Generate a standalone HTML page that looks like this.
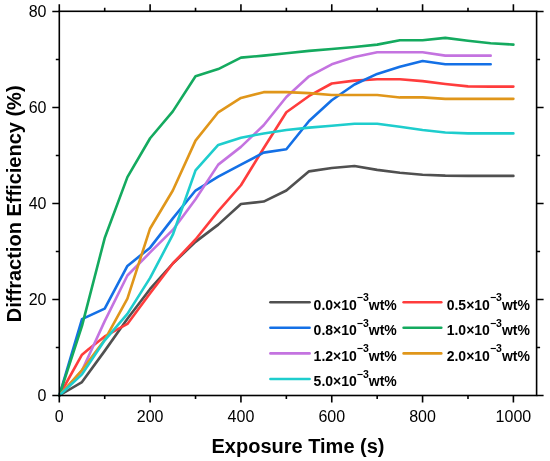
<!DOCTYPE html>
<html><head><meta charset="utf-8"><style>
html,body{margin:0;padding:0;background:#fff;}
body{width:550px;height:461px;overflow:hidden;}
svg{display:block;}
.tl{font-family:"Liberation Sans",Arial,sans-serif;font-size:16px;fill:#000;}
.ti{font-family:"Liberation Sans",Arial,sans-serif;font-size:20px;font-weight:bold;fill:#000;}
.lg{font-family:"Liberation Sans",Arial,sans-serif;font-size:14px;font-weight:bold;fill:#000;}
.sup{font-size:10.5px;font-weight:bold;}
</style></head><body>
<svg width="550" height="461" viewBox="0 0 550 461">
<rect width="550" height="461" fill="#fff"/>
<g fill="none" stroke-width="2.6" stroke-linejoin="round" stroke-linecap="round">
<polyline points="59.30,395.50 82.00,382.06 104.71,350.86 127.41,318.70 150.12,288.94 172.82,263.50 195.53,241.90 218.24,224.62 240.94,203.98 263.64,201.58 286.35,190.54 309.06,171.34 331.76,167.98 354.47,166.06 377.17,169.90 399.88,172.78 422.58,174.70 445.29,175.66 467.99,175.90 490.69,175.90 513.40,175.90" stroke="#505050"/>
<polyline points="59.30,395.50 82.00,354.70 88.82,348.94 104.71,336.46 127.41,323.98 150.12,293.26 172.82,263.50 195.53,239.50 218.24,211.18 240.94,185.26 263.64,148.30 286.35,112.30 309.06,95.98 331.76,83.50 354.47,80.62 377.17,79.18 399.88,79.18 422.58,81.10 445.29,83.98 467.99,86.38 490.69,86.62 513.40,86.62" stroke="#ff3c3c"/>
<polyline points="59.30,395.50 82.00,319.18 104.71,308.62 127.41,265.90 150.12,247.66 172.82,218.38 195.53,190.54 218.24,176.62 240.94,164.62 263.64,152.62 286.35,149.26 309.06,120.94 331.76,100.30 354.47,84.46 377.17,73.90 399.88,66.70 422.58,60.94 445.29,64.30 467.99,64.30 490.69,64.30" stroke="#1470e6"/>
<polyline points="59.30,395.50 82.00,325.90 104.71,238.06 127.41,177.10 150.12,138.22 172.82,111.34 195.53,76.30 218.24,69.10 240.94,57.58 263.64,55.66 286.35,53.26 309.06,50.86 331.76,48.94 354.47,47.02 377.17,44.62 399.88,40.30 422.58,40.30 445.29,37.90 467.99,40.78 490.69,43.18 513.40,44.62" stroke="#14aa5f"/>
<polyline points="59.30,395.50 82.00,370.54 104.71,321.10 127.41,275.50 150.12,252.46 172.82,229.90 195.53,199.18 218.24,164.62 240.94,146.86 263.64,125.26 286.35,96.94 309.06,76.30 331.76,64.30 354.47,57.10 377.17,52.30 399.88,52.30 422.58,52.30 445.29,55.66 467.99,55.66 490.69,55.66" stroke="#c473e0"/>
<polyline points="59.30,395.50 82.00,370.06 104.71,339.82 127.41,298.54 150.12,228.46 172.82,190.54 195.53,140.62 218.24,112.30 240.94,97.90 263.64,92.14 286.35,92.14 309.06,93.10 331.76,95.02 354.47,95.02 377.17,95.02 399.88,97.42 422.58,97.42 445.29,98.86 467.99,98.86 490.69,98.86 513.40,98.86" stroke="#e0961a"/>
<polyline points="59.30,395.50 82.00,374.38 104.71,340.30 127.41,313.90 150.12,277.90 172.82,234.70 195.53,170.38 218.24,144.94 240.94,137.74 263.64,133.42 286.35,130.06 309.06,127.66 331.76,125.74 354.47,123.82 377.17,123.82 399.88,126.70 422.58,130.06 445.29,132.46 467.99,133.42 490.69,133.42 513.40,133.42" stroke="#1ecdcd"/>
</g>
<g fill="none" stroke="#000" stroke-width="1.6">
<rect x="59.3" y="11.3" width="477.30" height="384.20"/>
<path d="M59.30,395.5v7M59.30,11.3v-7M104.71,395.5v3.5M104.71,11.3v-3.5M150.12,395.5v7M150.12,11.3v-7M195.53,395.5v3.5M195.53,11.3v-3.5M240.94,395.5v7M240.94,11.3v-7M286.35,395.5v3.5M286.35,11.3v-3.5M331.76,395.5v7M331.76,11.3v-7M377.17,395.5v3.5M377.17,11.3v-3.5M422.58,395.5v7M422.58,11.3v-7M467.99,395.5v3.5M467.99,11.3v-3.5M513.40,395.5v7M513.40,11.3v-7M59.3,395.50h-7M536.6,395.50h7M59.3,347.50h-3.5M536.6,347.50h3.5M59.3,299.50h-7M536.6,299.50h7M59.3,251.50h-3.5M536.6,251.50h3.5M59.3,203.50h-7M536.6,203.50h7M59.3,155.50h-3.5M536.6,155.50h3.5M59.3,107.50h-7M536.6,107.50h7M59.3,59.50h-3.5M536.6,59.50h3.5M59.3,11.50h-7M536.6,11.50h7"/>
</g>
<g class="tl">
<text x="59.30" y="421.5" text-anchor="middle">0</text>
<text x="150.12" y="421.5" text-anchor="middle">200</text>
<text x="240.94" y="421.5" text-anchor="middle">400</text>
<text x="331.76" y="421.5" text-anchor="middle">600</text>
<text x="422.58" y="421.5" text-anchor="middle">800</text>
<text x="513.40" y="421.5" text-anchor="middle">1000</text>
<text x="46.5" y="401.30" text-anchor="end">0</text>
<text x="46.5" y="305.30" text-anchor="end">20</text>
<text x="46.5" y="209.30" text-anchor="end">40</text>
<text x="46.5" y="113.30" text-anchor="end">60</text>
<text x="46.5" y="17.30" text-anchor="end">80</text>
</g>
<text class="ti" x="298" y="452.8" text-anchor="middle">Exposure Time (s)</text>
<text class="ti" transform="translate(20.6,203.8) rotate(-90)" text-anchor="middle">Diffraction Efficiency (%)</text>
<g class="lg" stroke-width="2.6" stroke-linecap="round">
<line x1="270.4" y1="302.3" x2="309.6" y2="302.3" stroke="#505050"/>
<text x="313.6" y="309.50">0.0×10<tspan class="sup" dy="-8.2">−3</tspan><tspan dy="8.2">wt%</tspan></text>
<line x1="403.6" y1="302.3" x2="441.3" y2="302.3" stroke="#ff3c3c"/>
<text x="446.7" y="309.50">0.5×10<tspan class="sup" dy="-8.2">−3</tspan><tspan dy="8.2">wt%</tspan></text>
<line x1="270.4" y1="327.8" x2="309.6" y2="327.8" stroke="#1470e6"/>
<text x="313.6" y="335.00">0.8×10<tspan class="sup" dy="-8.2">−3</tspan><tspan dy="8.2">wt%</tspan></text>
<line x1="403.6" y1="327.8" x2="441.3" y2="327.8" stroke="#14aa5f"/>
<text x="446.7" y="335.00">1.0×10<tspan class="sup" dy="-8.2">−3</tspan><tspan dy="8.2">wt%</tspan></text>
<line x1="270.4" y1="353.4" x2="309.6" y2="353.4" stroke="#c473e0"/>
<text x="313.6" y="360.60">1.2×10<tspan class="sup" dy="-8.2">−3</tspan><tspan dy="8.2">wt%</tspan></text>
<line x1="403.6" y1="353.4" x2="441.3" y2="353.4" stroke="#e0961a"/>
<text x="446.7" y="360.60">2.0×10<tspan class="sup" dy="-8.2">−3</tspan><tspan dy="8.2">wt%</tspan></text>
<line x1="270.4" y1="379.0" x2="309.6" y2="379.0" stroke="#1ecdcd"/>
<text x="313.6" y="386.20">5.0×10<tspan class="sup" dy="-8.2">−3</tspan><tspan dy="8.2">wt%</tspan></text>
</g>
</svg>
</body></html>
